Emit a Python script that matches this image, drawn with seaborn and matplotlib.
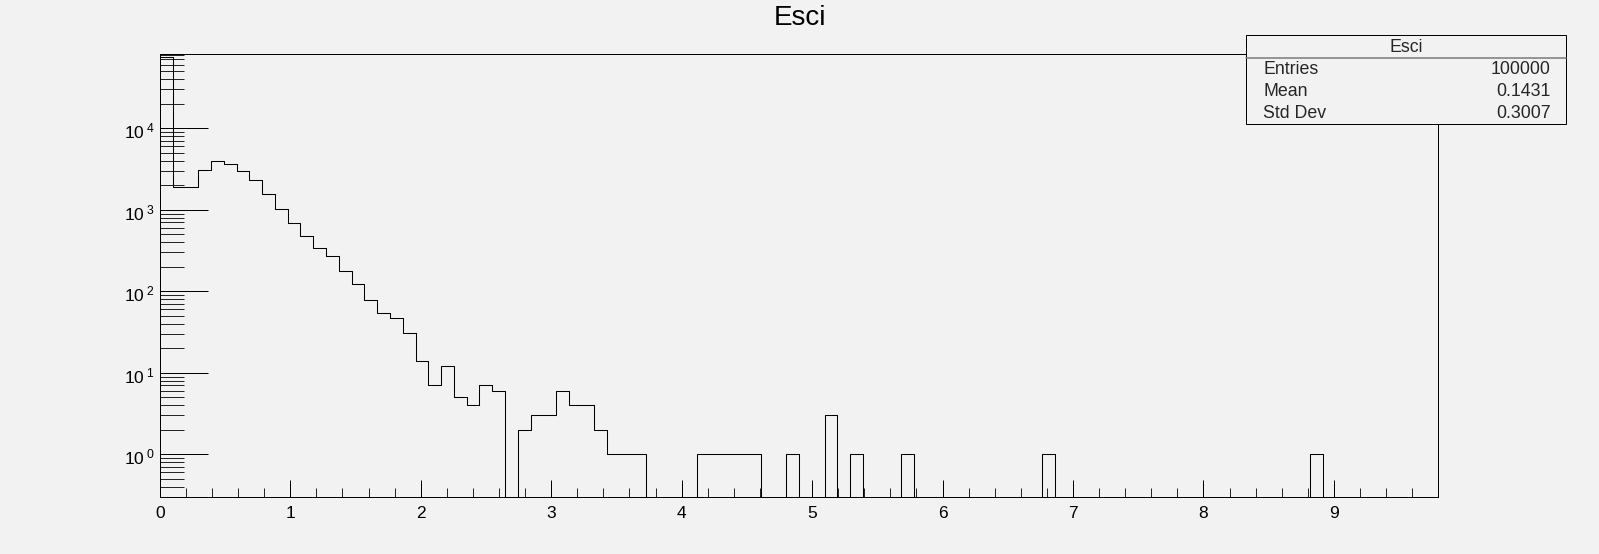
import numpy as np
import pandas as pd
import matplotlib
matplotlib.use("Agg")
import matplotlib.pyplot as plt
import seaborn as sns
from matplotlib.ticker import FixedLocator, LogLocator, FuncFormatter, NullFormatter
from matplotlib.patches import Rectangle
from matplotlib.lines import Line2D
from matplotlib.transforms import ScaledTranslation

# ---------------- data ----------------
title = "Esci"
x_min, x_max, n_bins = 0.0, 9.8, 100
counts = [
    75391, 1905, 1905, 3054, 3936, 3614, 2967, 2300, 1549, 1014,   # 0-9
    683, 473, 337, 269, 176, 122, 78, 54, 47, 31,                  # 10-19
    14, 7, 12, 5, 4, 7, 6, 0, 2, 3,                                # 20-29
    3, 6, 4, 4, 2, 1, 1, 1, 0, 0,                                  # 30-39
    0, 0, 1, 1, 1, 1, 1, 0, 0, 1,                                  # 40-49
    0, 0, 3, 0, 1, 0, 0, 0, 1, 0,                                  # 50-59
    0, 0, 0, 0, 0, 0, 0, 0, 0, 1,                                  # 60-69
    0, 0, 0, 0, 0, 0, 0, 0, 0, 0,                                  # 70-79
    0, 0, 0, 0, 0, 0, 0, 0, 0, 0,                                  # 80-89
    1, 0, 0, 0, 0, 0, 0, 0, 0, 0,                                  # 90-99
]
x_ticks = [0, 1, 2, 3, 4, 5, 6, 7, 8, 9]
y_decades = [0, 1, 2, 3, 4]
y_range = (0.297, 80900)
stat_title = "Esci"
stat_names = ["Entries", "Mean", "Std Dev"]
stat_values = ["100000", "0.1431", "0.3007"]

# ---------------- style ----------------
W, H = 1599, 554
BG = "#f2f2f2"
sns.set_theme(style="ticks")
plt.rcParams["font.family"] = ["Liberation Sans", "DejaVu Sans"]
plt.rcParams["mathtext.default"] = "regular"
plt.rcParams["axes.linewidth"] = 0.72

fig = plt.figure(figsize=(W / 100, H / 100), dpi=100, facecolor=BG)
ax = fig.add_axes([159.8 / W, 1 - 497.3 / H, (1438.3 - 159.8) / W, (497.3 - 54.3) / H])
ax.set_facecolor(BG)

edges = list(np.linspace(x_min, x_max, n_bins + 1))
centers = [0.5 * (edges[i] + edges[i + 1]) for i in range(n_bins)]
df = pd.DataFrame({"x": centers, "n": counts})

sns.histplot(data=df, x="x", weights="n", bins=edges, element="step", fill=False,
             color="black", linewidth=0.75, ax=ax)

ax.set_yscale("log")
ax.set_xlim(x_min, x_max)
ax.set_ylim(*y_range)
ax.set_xlabel("")
ax.set_ylabel("")
for s in ax.spines.values():
    s.set_color("black")
    s.set_linewidth(0.72)
    s.set_visible(True)

# x ticks
ax.xaxis.set_major_locator(FixedLocator(x_ticks))
ax.xaxis.set_minor_locator(FixedLocator(np.round(np.arange(0.2, 9.7, 0.2), 1)))
ax.xaxis.set_major_formatter(FuncFormatter(lambda v, p: f"{int(round(v))}"))
ax.tick_params(axis="x", which="major", direction="in", length=12.2, width=0.72,
               bottom=True, top=False, labelsize=12.5, pad=6.2, colors="black")
ax.tick_params(axis="x", which="minor", direction="in", length=6.5, width=0.72,
               bottom=True, top=False)

# y ticks
ax.yaxis.set_major_locator(FixedLocator([10.0 ** d for d in y_decades]))
ax.yaxis.set_minor_locator(LogLocator(base=10, subs=np.arange(2, 10), numticks=50))
ax.yaxis.set_major_formatter(FuncFormatter(lambda v, p: r"$10^{\;%d}$" % int(round(np.log10(v)))))
ax.yaxis.set_minor_formatter(NullFormatter())
ax.tick_params(axis="y", which="major", direction="in", length=34.6, width=0.72,
               left=True, right=False, labelsize=12.5, pad=3.5, colors="black")
ax.tick_params(axis="y", which="minor", direction="in", length=17.3, width=0.72,
               left=True, right=False)
fig.canvas.draw()
shift = ScaledTranslation(0, -1.5 / 72, fig.dpi_scale_trans)
for lab in ax.get_yticklabels():
    lab.set_transform(lab.get_transform() + shift)

# title
def fx(px):
    return px / W

def fy(py):
    return 1 - py / H

fig.text(fx(800), fy(18.0), title, ha="center", va="center", fontsize=20, color="black")

# stats box
box = Rectangle((fx(1246.3), fy(124)), fx(1566.3) - fx(1246.3), fy(35.3) - fy(124),
                transform=fig.transFigure, facecolor=BG, edgecolor="black",
                linewidth=0.72, zorder=10)
fig.add_artist(box)
fig.add_artist(Line2D([fx(1246.3), fx(1566.3)], [fy(57.7), fy(57.7)],
                      transform=fig.transFigure, color="#7a7a7a", linewidth=1.1, zorder=11))
fig.text(fx(1406.7), fy(47.5), stat_title, ha="center", va="center", fontsize=12.8, zorder=12)
row_y = [69.3, 92.0, 114.0]
for name, val, yy in zip(stat_names, stat_values, row_y):
    fig.text(fx(1263.3), fy(yy), name, ha="left", va="center", fontsize=12.8, zorder=12)
    fig.text(fx(1550.7), fy(yy), val, ha="right", va="center", fontsize=12.8, zorder=12)

fig.savefig("out.png", dpi=100, facecolor=BG)
